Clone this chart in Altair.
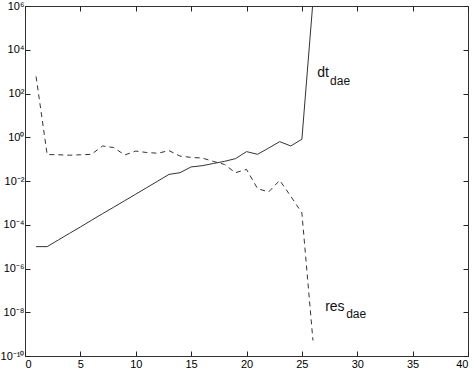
import altair as alt
import pandas as pd

# ---- data ----
steps = list(range(1, 27))
dt_dae = [1.0e-5, 1.0e-5, 2.0e-5, 4.0e-5, 7.9e-5, 1.6e-4, 3.2e-4, 6.3e-4, 1.26e-3,
          2.5e-3, 5.0e-3, 1.0e-2, 2.0e-2, 2.4e-2, 4.4e-2, 5.0e-2, 6.3e-2, 7.9e-2,
          1.05e-1, 2.2e-1, 1.66e-1, 3.2e-1, 6.3e-1, 4.0e-1, 8.1e-1, 1.6e6]
res_dae = [6.0e2, 1.62e-1, 1.58e-1, 1.51e-1, 1.58e-1, 1.66e-1, 3.98e-1, 3.39e-1,
           1.55e-1, 2.34e-1, 2.0e-1, 1.86e-1, 2.45e-1, 1.38e-1, 1.2e-1, 1.12e-1,
           7.9e-2, 5.75e-2, 2.4e-2, 3.4e-2, 4.47e-3, 3.16e-3, 1.07e-2, 2.0e-3,
           3.5e-4, 5.1e-10]

xtick_values = [0, 5, 10, 15, 20, 25, 30, 35, 40]
ytick_exponents = [-10, -8, -6, -4, -2, 0, 2, 4, 6]
ytick_labels = ["10\u207b\u00b9\u2070", "10\u207b\u2078", "10\u207b\u2076", "10\u207b\u2074",
                "10\u207b\u00b2", "10\u2070", "10\u00b2", "10\u2074", "10\u2076"]

ann_main_text = ["dt", "res"]
ann_main_x = [26.38, 27.1]
ann_main_y = [5.75e2, 1.17e-8]
ann_sub_text = ["dae", "dae"]
ann_sub_x = [27.55, 29.0]
ann_sub_y = [2.48e2, 5.5e-9]

# ---- tables ----
lines = pd.DataFrame({
    "step": steps + steps,
    "value": dt_dae + res_dae,
    "series": ["dt"] * len(steps) + ["res"] * len(steps),
})
ann_main = pd.DataFrame({"x": ann_main_x, "y": ann_main_y, "t": ann_main_text})
ann_sub = pd.DataFrame({"x": ann_sub_x, "y": ann_sub_y, "t": ann_sub_text})

ytick_values = [10.0 ** e for e in ytick_exponents]
label_expr = "''"
for e, lab in zip(ytick_exponents, ytick_labels):
    label_expr = f"round(log(datum.value)/LN10) == {e} ? '{lab}' : ({label_expr})"

FONT = "Liberation Sans"
xscale = alt.Scale(domain=[0, 40], nice=False, zero=False)
yscale = alt.Scale(type="log", domain=[1e-10, 1e6], nice=False, clamp=False)

common_axis = dict(domain=False, ticks=True, tickSize=alt.ExprRef(expr="-5"),
                   tickColor="#222", tickWidth=1, zindex=2,
                   labelFont=FONT, labelFontSize=11, labelColor="#000", grid=False,
                   title=None)

solid = alt.Chart(lines).transform_filter("datum.series == 'dt'").mark_line(
    color="#333", strokeWidth=1, clip=True
).encode(
    x=alt.X("step:Q", scale=xscale,
            axis=alt.Axis(orient="bottom", values=xtick_values, labelPadding=7, **common_axis)),
    y=alt.Y("value:Q", scale=yscale,
            axis=alt.Axis(orient="left", values=ytick_values, labelExpr=label_expr,
                          labelPadding=6, **common_axis)),
)

dashed = alt.Chart(lines).transform_filter("datum.series == 'res'").mark_line(
    color="#333", strokeWidth=1, strokeDash=[5, 4], clip=True
).encode(
    x=alt.X("step:Q", scale=xscale,
            axis=alt.Axis(orient="top", values=xtick_values, labels=False, **common_axis)),
    y=alt.Y("value:Q", scale=yscale,
            axis=alt.Axis(orient="right", values=ytick_values, labels=False, **common_axis)),
)

main_text = alt.Chart(ann_main).mark_text(
    align="left", baseline="alphabetic", font=FONT, fontSize=14, color="#111"
).encode(
    x=alt.X("x:Q", scale=xscale, axis=None),
    y=alt.Y("y:Q", scale=yscale, axis=None),
    text="t:N",
)

sub_text = alt.Chart(ann_sub).mark_text(
    align="left", baseline="alphabetic", font=FONT, fontSize=12, color="#111"
).encode(
    x=alt.X("x:Q", scale=xscale, axis=None),
    y=alt.Y("y:Q", scale=yscale, axis=None),
    text="t:N",
)

chart = alt.layer(solid, dashed, main_text, sub_text).resolve_axis(
    x="independent", y="independent"
).properties(
    width=443, height=350,
    autosize=alt.AutoSizeParams(type="none"),
    padding={"left": 25, "top": 6, "right": 6, "bottom": 14},
    background="white",
).configure_view(stroke="#333", strokeWidth=1)

chart.save("out.html", embed_options={"renderer": "svg", "actions": False})
